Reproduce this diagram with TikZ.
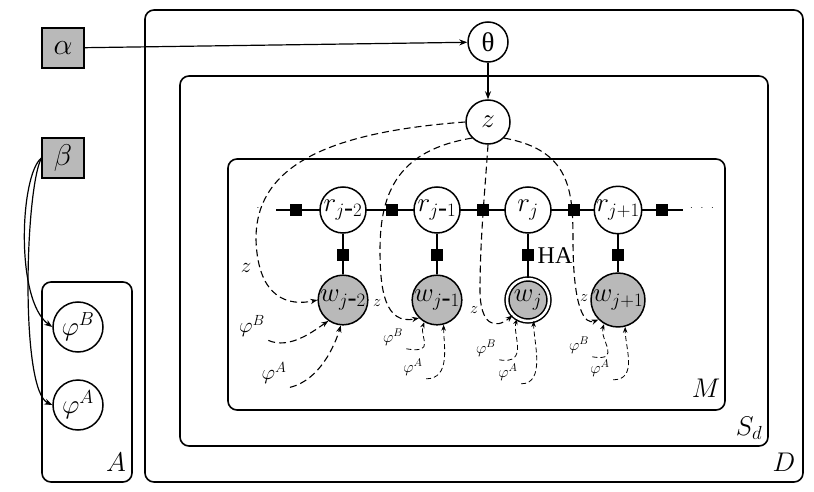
\RequirePackage{fix-cm}
\documentclass[tikz,border=0pt]{standalone}
\usepackage{fontspec}
\setmainfont{Liberation Serif}
\usetikzlibrary{arrows.meta,calc}
\begin{document}
\begin{tikzpicture}[x=1pt,y=-1pt,
  plate/.style={draw,line width=1.6pt,rounded corners=9pt},
  gbox/.style={draw,line width=1.2pt,fill=gray!55,minimum width=42pt,minimum height=40pt,inner sep=0pt,font=\fontsize{30}{32}\selectfont},
  var/.style={draw,circle,line width=1.5pt,fill=white,minimum size=46pt,inner sep=0pt,font=\fontsize{27}{29}\selectfont},
  obs/.style={var,fill=gray!55},
  fac/.style={draw,fill=black,minimum size=11pt,inner sep=0pt},
  arr/.style={-{Stealth[length=8pt]},line width=1.2pt},
  dz/.style={dash pattern=on 7pt off 4pt,line width=1.1pt,-{Stealth[length=7pt]}},
  ds/.style={dash pattern=on 5pt off 3pt,line width=0.8pt,-{Stealth[length=6pt]}},
  lab/.style={font=\fontsize{21}{23}\selectfont},
  slab/.style={font=\fontsize{16}{18}\selectfont}]
\useasboundingbox (0,0) rectangle (814,492);
% plates
\draw[plate] (42,282) rectangle (132,482);
\draw[plate] (145,10) rectangle (803,482);
\draw[plate] (180,76) rectangle (768,446);
\draw[plate] (228,159) rectangle (725,410);
\node[font=\fontsize{27}{29}\selectfont] (lA) at (116,462) {$A$};
\node[font=\fontsize{27}{29}\selectfont] (lD) at (784,462) {$D$};
\node[font=\fontsize{27}{29}\selectfont] (lS) at (749,428) {$S_d$};
\node[font=\fontsize{27}{29}\selectfont] (lM) at (706,388) {$M$};
% top
\node[gbox] (al) at (63,48) {$\alpha$};
\node[gbox] (be) at (63,158) {$\beta$};
\node[var,minimum size=40pt] (th) at (488,42) {θ};
\node[var,minimum size=44pt] (z) at (488,122) {$z$};
\node[var,minimum size=50pt] (pB) at (78,327) {$\varphi^B$};
\node[var,minimum size=50pt] (pA) at (78,405) {$\varphi^A$};
\draw[arr] (al) -- (th);
\draw[arr] (th) -- (z);
\draw[arr] (be.west) .. controls (20,175) and (15,300) .. (pB.west);
\draw[arr] (be.west) .. controls (25,190) and (20,390) .. (pA.west);
% chain
\coordinate (cl) at (276,210);
\coordinate (cr) at (683,210);
\node (dl) at (258,208) {$\cdot$};
\node (dr) at (702,208) {$\cdot\;\;\cdot\;\;\cdot$};
\draw[line width=1.3pt] (cl) -- (cr);
\node[var] (r1) at (343,210) {$r_{j\mbox{-}2}$};
\node[var] (r2) at (437,210) {$r_{j\mbox{-}1}$};
\node[var] (r3) at (528,210) {$r_j$};
\node[var] (r4) at (618,210) {$r_{j+1}$};
\node[obs,minimum size=48pt] (w1) at (343,300) {$w_{j\mbox{-}2}$};
\node[obs,minimum size=48pt] (w2) at (437,300) {$w_{j\mbox{-}1}$};
\node[obs,minimum size=42pt,double,double distance=2.5pt] (w3) at (528,300) {$w_j$};
\node[obs,minimum size=48pt] (w4) at (618,300) {$w_{j+1}$};
\foreach \x/\n in {296/h0,392/h1,483/h2,574/h3,662/h4}{\node[fac] (\n) at (\x,210) {};}
\foreach \i in {1,2,3,4}{
  \draw[line width=1.3pt] (r\i) -- (w\i);
  \node[fac] (v\i) at ($(r\i)!0.5!(w\i)$) {};}
\node[font=\fontsize{24}{26}\selectfont] (HA) at (555,256) {HA};
% dashed z curves
\node[lab] (z1) at (246,268) {$z$};
\draw[dz] (z.west) .. controls (330,132) and (255,165) .. (256,240) .. controls (258,300) and (290,306) .. (w1.west);
\node[slab] (z2) at (377,303) {$z$};
\draw[dz] (z.south west) .. controls (400,150) and (380,190) .. (380,250) .. controls (380,290) and (385,325) .. (w2.south west);
\node[slab] (z3) at (474,310) {$z$};
\draw[dz] (z.south) .. controls (485,190) and (480,240) .. (480,290) .. controls (480,325) and (495,330) .. (w3.south west);
\node[slab] (z4) at (584,298) {$z$};
\draw[dz] (z.south east) .. controls (570,150) and (573,190) .. (573,240) .. controls (573,310) and (585,325) .. (w4.south west);
% phi labels
\node[lab] (b1) at (252,326) {$\varphi^B$};
\node[lab] (a1) at (274,373) {$\varphi^A$};
\draw[dz] (b1.south east) .. controls (290,350) and (315,330) .. (w1.-125);
\draw[dz] (a1.south east) .. controls (320,380) and (335,345) .. (w1.-95);
\foreach \i/\bx/\by/\ax/\ay in {2/393/337/413/367, 3/486/348/508/372, 4/579/345/600/368}{
  \node[slab] (b\i) at (\bx,\by) {$\varphi^B$};
  \node[slab] (a\i) at (\ax,\ay) {$\varphi^A$};
  \draw[ds] (b\i.south east) .. controls ($(b\i.south east)+(30,5)$) and ($(w\i.-120)+(-5,15)$) .. (w\i.-120);
  \draw[ds] (a\i.south east) .. controls ($(a\i.south east)+(25,0)$) and ($(w\i.-75)+(0,20)$) .. (w\i.-75);
}
\end{tikzpicture}
\end{document}
